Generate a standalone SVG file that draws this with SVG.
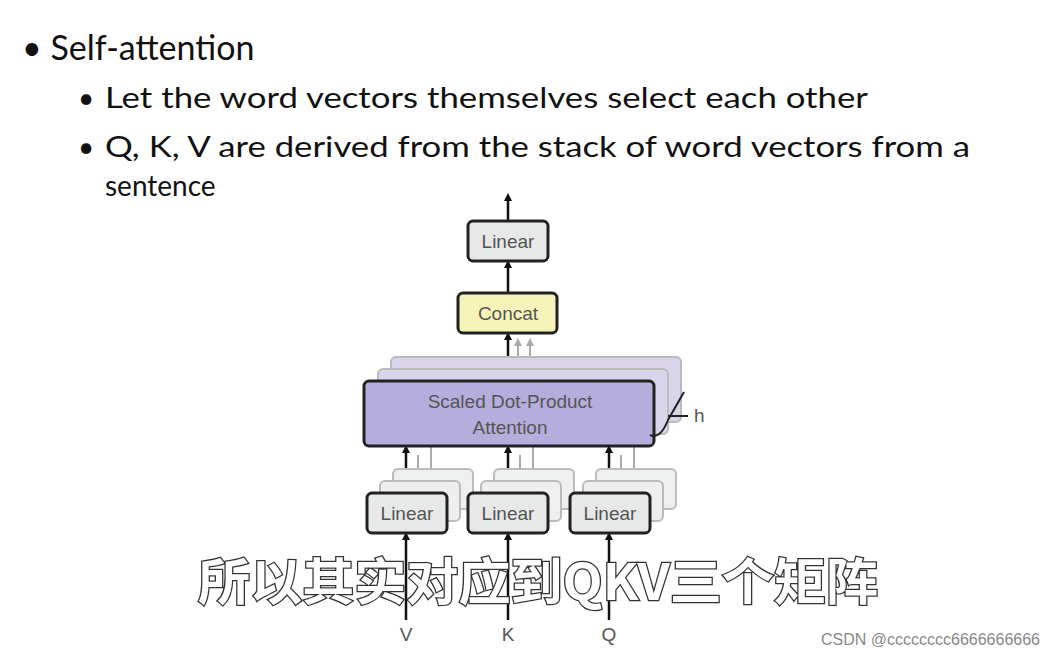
<svg xmlns="http://www.w3.org/2000/svg" width="1055" height="657" viewBox="0 0 1055 657">
<defs>
<marker id="ah" markerWidth="8" markerHeight="8" refX="4" refY="4" orient="auto" markerUnits="userSpaceOnUse"><path d="M0,0 L8,4 L0,8 z" fill="#111"/></marker>
<marker id="ahl" markerWidth="8" markerHeight="8" refX="4" refY="4" orient="auto" markerUnits="userSpaceOnUse"><path d="M0,0 L8,4 L0,8 z" fill="#aaa"/></marker>
</defs>
<style>
.t{font-family:Lato,"Open Sans",sans-serif;fill:#111}
.d{font-family:"Liberation Sans",Arial,sans-serif;fill:#555;font-size:19px}
.box{fill:#e6e9e8;stroke:#222;stroke-width:3}
.sh{fill:#eef0f0;stroke:#bbb;stroke-width:2}
.shp{fill:#d9d4ea;stroke:#bbb;stroke-width:2}
.ln{stroke:#111;stroke-width:2.5;fill:none}
.ll{stroke:#aaa;stroke-width:2;fill:none}
</style>
<rect width="1055" height="657" fill="#fff"/>
<text class="t" x="22" y="60" font-size="34">• Self-attention</text>
<text class="t" x="78" y="108" font-size="28">•</text>
<text class="t" x="105" y="108" font-size="28" textLength="763" lengthAdjust="spacingAndGlyphs">Let the word vectors themselves select each other</text>
<text class="t" x="78" y="157" font-size="28">•</text>
<text class="t" x="105" y="157" font-size="28" textLength="865" lengthAdjust="spacingAndGlyphs">Q, K, V are derived from the stack of word vectors from a</text>
<text class="t" x="105" y="196" font-size="28">sentence</text>

<g id="connectors">
<path class="ll" d="M518,381 V342" marker-end="url(#ahl)"/>
<path class="ll" d="M530,370 V342" marker-end="url(#ahl)"/>
<path class="ll" d="M418,493 V455 M431,481 V446 M520,493 V455 M533,481 V446 M621,493 V455 M634,481 V446"/>
<path class="ln" d="M508,221 V197" marker-end="url(#ah)"/>
<path class="ln" d="M508,293 V264" marker-end="url(#ah)"/>
<path class="ln" d="M508,381 V336" marker-end="url(#ah)"/>
<path class="ln" d="M406,493 V449" marker-end="url(#ah)"/>
<path class="ln" d="M508,493 V449" marker-end="url(#ah)"/>
<path class="ln" d="M609,493 V449" marker-end="url(#ah)"/>
<path class="ln" d="M406,620 V536" marker-end="url(#ah)"/>
<path class="ln" d="M508,620 V536" marker-end="url(#ah)"/>
<path class="ln" d="M609,620 V536" marker-end="url(#ah)"/>
</g>

<g id="linear-top"><rect class="box" x="468" y="221" width="80" height="40" rx="5"/><text class="d" x="508" y="248" text-anchor="middle">Linear</text></g>
<g id="concat"><rect x="458" y="293" width="99" height="40" rx="5" fill="#f5f3b8" stroke="#222" stroke-width="3"/><text class="d" x="508" y="320" text-anchor="middle">Concat</text></g>
<g id="attention">
<rect class="shp" x="391" y="357" width="290" height="65" rx="5"/>
<rect class="shp" x="378" y="369" width="290" height="65" rx="5"/>
<rect x="364" y="381" width="290" height="65" rx="5" fill="#b5addb" stroke="#222" stroke-width="3"/>
<text class="d" x="510" y="408" text-anchor="middle">Scaled Dot-Product</text>
<text class="d" x="510" y="434" text-anchor="middle">Attention</text>
<path d="M650,435 Q660,440 668,420 L684,392" stroke="#222" stroke-width="2" fill="none"/>
<path d="M668,416 H688" stroke="#222" stroke-width="2"/>
<text class="d" x="694" y="422">h</text>
</g>
<g id="linear-v"><rect class="sh" x="393" y="469" width="80" height="40" rx="5"/><rect class="sh" x="380" y="481" width="80" height="40" rx="5"/><rect class="box" x="367" y="493" width="80" height="40" rx="5"/><text class="d" x="407" y="520" text-anchor="middle">Linear</text></g>
<g id="linear-k"><rect class="sh" x="494" y="469" width="80" height="40" rx="5"/><rect class="sh" x="481" y="481" width="80" height="40" rx="5"/><rect class="box" x="468" y="493" width="80" height="40" rx="5"/><text class="d" x="508" y="520" text-anchor="middle">Linear</text></g>
<g id="linear-q"><rect class="sh" x="596" y="469" width="80" height="40" rx="5"/><rect class="sh" x="583" y="481" width="80" height="40" rx="5"/><rect class="box" x="570" y="493" width="80" height="40" rx="5"/><text class="d" x="610" y="520" text-anchor="middle">Linear</text></g>
<g id="labels">
<text class="d" x="406" y="641" text-anchor="middle">V</text>
<text class="d" x="508" y="641" text-anchor="middle">K</text>
<text class="d" x="609" y="641" text-anchor="middle">Q</text>
</g>
<text x="538" y="600" text-anchor="middle" font-size="50" font-weight="bold" font-family="'Noto Sans CJK SC',sans-serif" fill="#fff" stroke="#333" stroke-width="2.5" paint-order="stroke" textLength="680" lengthAdjust="spacingAndGlyphs">所以其实对应到QKV三个矩阵</text>
<text x="1040" y="645" text-anchor="end" font-size="16" font-family="'Liberation Sans',sans-serif" fill="#888">CSDN @cccccccc6666666666</text>
</svg>
